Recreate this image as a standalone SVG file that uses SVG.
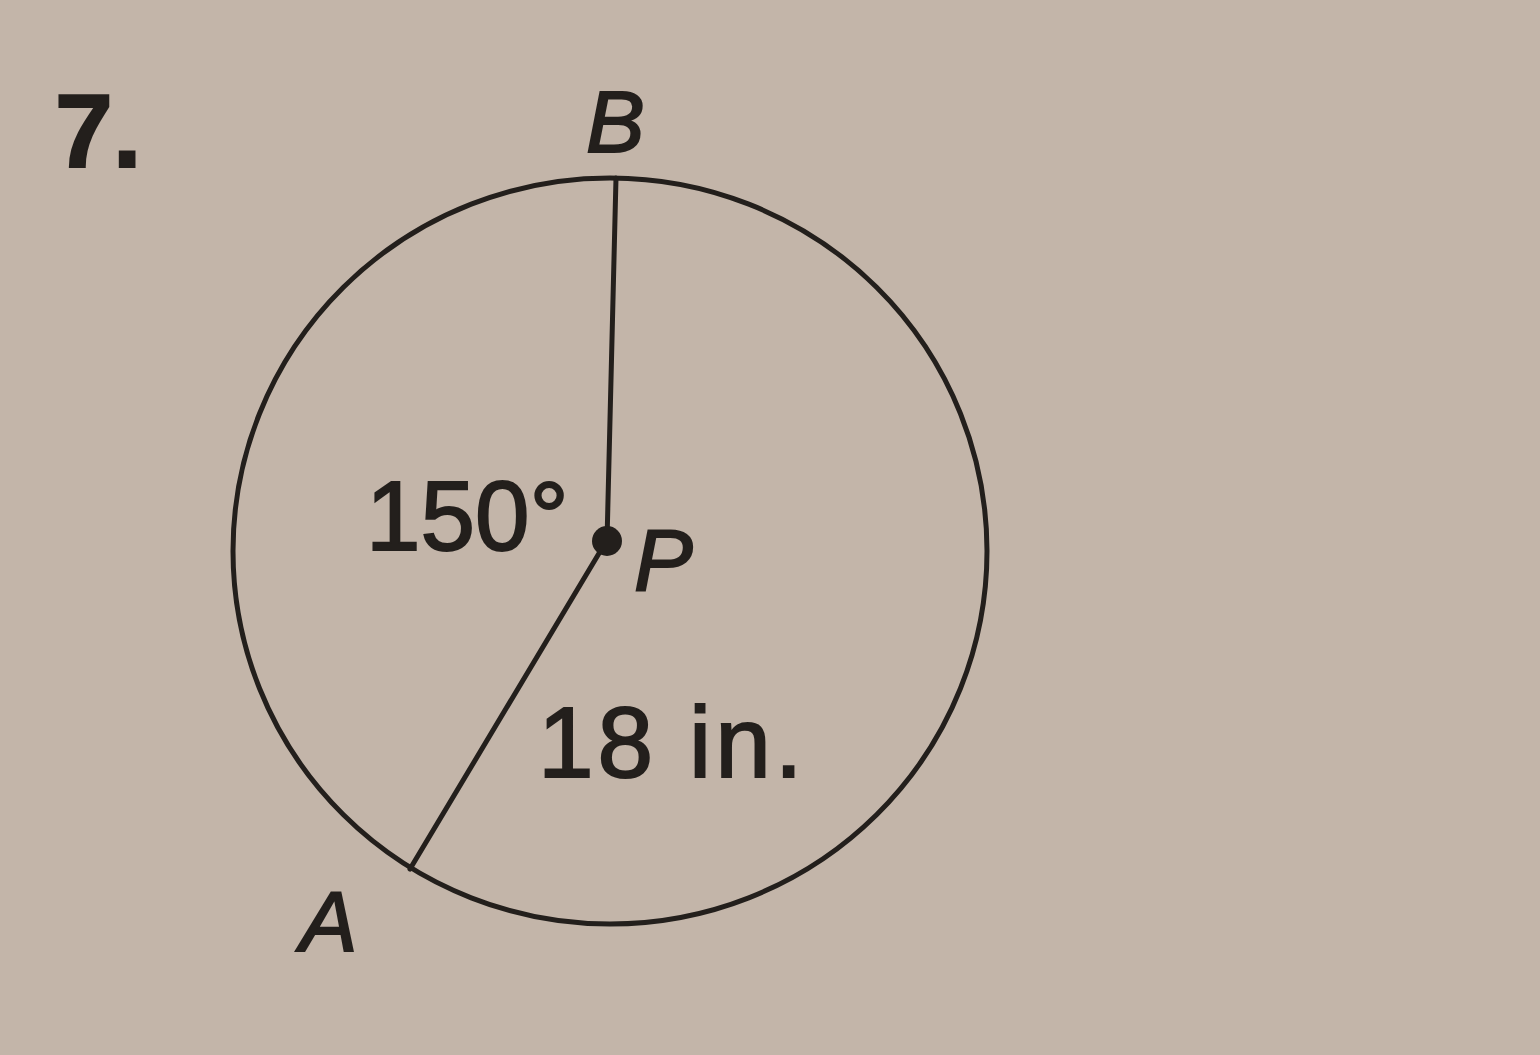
<svg xmlns="http://www.w3.org/2000/svg" width="1540" height="1055" viewBox="0 0 1540 1055">
<style>
.ln{fill:none;stroke:#231f1c;stroke-width:5;stroke-linecap:round}
.t{font-family:"Liberation Sans","DejaVu Sans",sans-serif;fill:#231f1c;stroke:#231f1c;stroke-width:2}
.it{font-style:italic}
</style>
<rect width="1540" height="1055" fill="#c3b5a9"/>
<text class="t" x="55" y="167" font-size="104" font-weight="bold">7.</text>
<g id="circle">
<ellipse class="ln" cx="610" cy="551" rx="377" ry="373"/>
</g>
<g id="connectors">
<line class="ln" x1="616" y1="178" x2="607" y2="541" stroke-width="4"/>
<line class="ln" x1="604" y1="545" x2="410" y2="869" stroke-width="4"/>
</g>
<g id="P">
<circle cx="607" cy="541" r="15" fill="#231f1c"/>
<text class="t it" x="634" y="590" font-size="88">P</text>
</g>
<g id="B"><text class="t it" x="586" y="152" font-size="88">B</text></g>
<g id="A"><text class="t it" x="300" y="951" font-size="86">A</text></g>
<text class="t" x="366" y="550" font-size="98">150°</text>
<text class="t" x="538" y="777" font-size="100" letter-spacing="4">18 in.</text>
</svg>
